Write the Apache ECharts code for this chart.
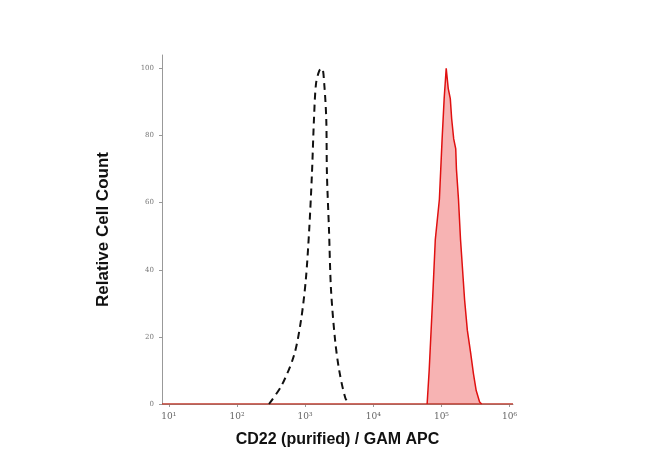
<!DOCTYPE html><html><head><meta charset="utf-8"><script src="https://cdn.jsdelivr.net/npm/echarts@6/dist/echarts.min.js"></script></head><body style="margin:0"><div id="c" style="width:650px;height:462px"></div><script>
const isotypeX=[2.47,2.66,2.84,2.94,3.01,3.06,3.10,3.13,3.16,3.21,3.25,3.28,3.31,3.32,3.35,3.38,3.44,3.50,3.59,3.65];
const isotypeY=[0,5.7,14.7,25,37,52,68.6,85,95.5,99.4,100,95.5,85,68.6,52,34,19,10,1.8,0];
const cd22X=[4.79,4.82,4.87,4.91,4.97,5.01,5.04,5.06,5.07,5.10,5.13,5.15,5.18,5.21,5.22,5.25,5.28,5.31,5.34,5.38,5.43,5.47,5.51,5.56,5.59];
const cd22Y=[0,10,31,49,61,79,91,97,100,94,91,85,79,76,70,61,49,40,31,22,15,9,4,0.6,0];
const xTicks=[1,2,3,4,5,6];
const xTickLabels=['10¹','10²','10³','10⁴','10⁵','10⁶'];
const yTicks=[0,20,40,60,80,100];
const z=(xs,ys)=>xs.map((x,i)=>[x,ys[i]]);
const ch=echarts.init(document.getElementById('c'));
ch.setOption({
 animation:false,
 grid:{left:162,right:137,top:55,bottom:58},
 xAxis:{type:'value',min:0.9,max:6.05,name:'CD22 (purified) / GAM APC',nameLocation:'middle',nameGap:28,
  nameTextStyle:{fontSize:16,fontWeight:'bold',color:'#111',fontFamily:'Liberation Sans'},
  axisLine:{lineStyle:{color:'#999'}},axisTick:{lineStyle:{color:'#999'},length:3,customValues:xTicks},
  splitLine:{show:false},
  axisLabel:{color:'#666',fontSize:9,fontFamily:'DejaVu Serif',customValues:xTicks,formatter:v=>xTickLabels[xTicks.indexOf(Math.round(v))]||''}},
 yAxis:{type:'value',min:0,max:104,name:'Relative Cell Count',nameLocation:'middle',nameGap:50,
  nameTextStyle:{fontSize:17,fontWeight:'bold',color:'#111',fontFamily:'Liberation Sans'},
  axisLine:{show:true,lineStyle:{color:'#999'}},axisTick:{show:true,length:3,lineStyle:{color:'#999'},customValues:yTicks},
  splitLine:{show:false},
  axisLabel:{color:'#777',fontSize:7,fontFamily:'DejaVu Serif',customValues:yTicks}},
 series:[
  {type:'line',data:[[0.9,0],[6.05,0]],symbol:'none',lineStyle:{color:'#c0392b',width:1.5}},
  {type:'line',data:z(isotypeX,isotypeY),symbol:'none',smooth:0.3,lineStyle:{color:'#111',width:2,type:[7,5]}},
  {type:'line',data:z(cd22X,cd22Y),symbol:'none',lineStyle:{color:'#e01010',width:1.5},areaStyle:{color:'rgba(240,110,110,0.75)'}}
 ]});
</script></body></html>
